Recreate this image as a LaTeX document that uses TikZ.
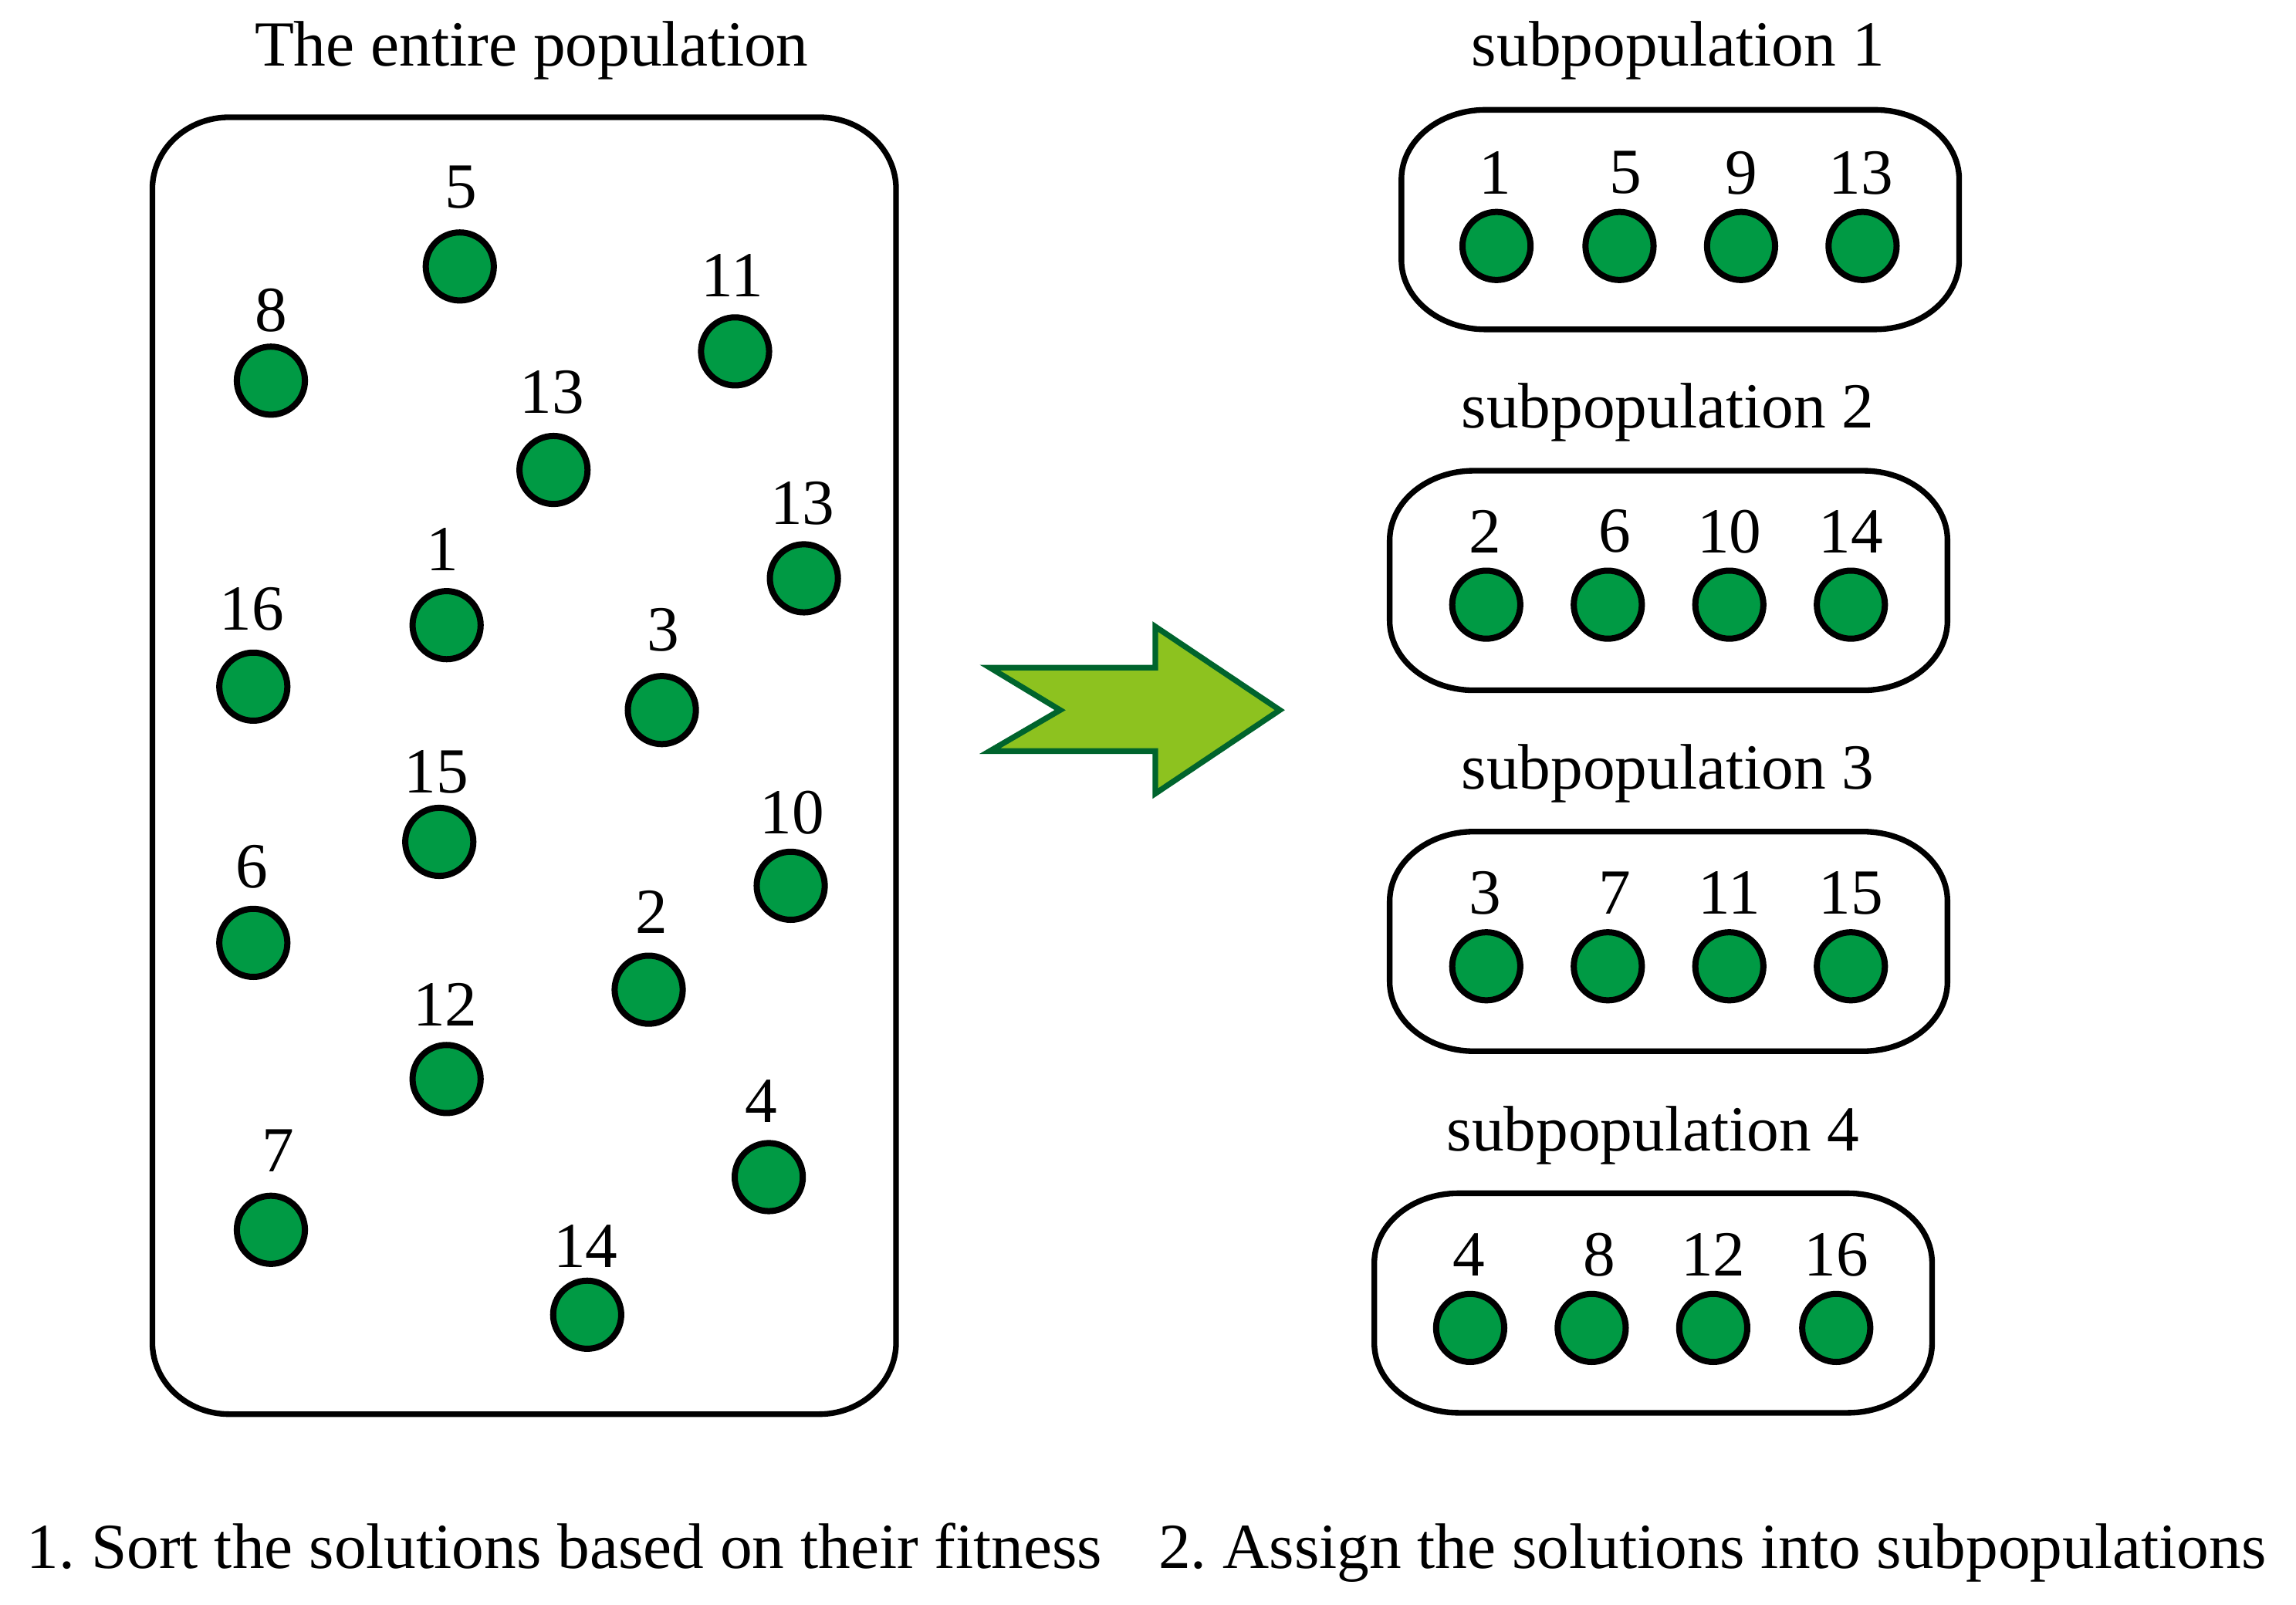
\documentclass[tikz,border=0pt]{standalone}
\usepackage{fontspec}
\setmainfont{Liberation Serif}
\frenchspacing
\definecolor{dotgreen}{RGB}{0,154,68}
\definecolor{arrowfill}{RGB}{141,194,31}
\definecolor{arrowline}{RGB}{0,100,45}
\newcommand\myoutline[3]{%
  \draw[boxline] ([xshift=#2]#1.north west) -- ([xshift=-#2]#1.north east)
    arc[start angle=90,end angle=0,x radius=#2,y radius=#3]
    -- ([yshift=#3]#1.south east)
    arc[start angle=0,end angle=-90,x radius=#2,y radius=#3]
    -- ([xshift=#2]#1.south west)
    arc[start angle=270,end angle=180,x radius=#2,y radius=#3]
    -- ([yshift=-#3]#1.north west)
    arc[start angle=180,end angle=90,x radius=#2,y radius=#3] -- cycle;}
\begin{document}
\begin{tikzpicture}[x=0.02cm,y=-0.02cm,
  every node/.style={font=\fontsize{25}{30}\selectfont},
  dot/.style={circle,draw=black,line width=2.4pt,fill=dotgreen,minimum size=0.93cm,inner sep=0pt},
  num/.style={inner sep=0pt},
  boxline/.style={draw=black,line width=2.2pt},
  bigbox/.style={minimum width=10.16cm,minimum height=17.72cm,inner sep=0pt,outer sep=0pt},
  subbox/.style={minimum width=7.62cm,minimum height=3cm,inner sep=0pt,outer sep=0pt},
  ttl/.style={anchor=base,inner sep=0pt}]
\useasboundingbox (0,0) rectangle (1568,1096);
% big population box
\node[bigbox] (pop) at (358,523) {};
\myoutline{pop}{1.05cm}{0.98cm}
\node[ttl] (popttl) at (363,45) {The entire population};
% dots in the big box
\foreach \n/\cx/\cy/\lx/\ly/\t in {
  a/314/182/315/128/5, b/185/260/185/212/8, c/502/240/500/188/11,
  d/378/321/377/268/13, e/549/395/548/344/13, f/305/427/302/375/1,
  g/173/469/172/416/16, h/452/485/453/430/3, i/300/575/298/527/15,
  j/540/605/541/555/10, k/173/644/172/592/6, l/443/676/445/623/2,
  m/305/737/304/686/12, n/525/804/520/752/4, o/185/840/190/786/7,
  p/401/898/400/851/14}{
  \node[dot] (c\n) at (\cx,\cy) {};
  \node[num] (l\n) at (\lx,\ly) {\t};
}
% arrow
\draw[line width=2.2pt,line join=miter,draw=arrowline,fill=arrowfill]
  (676,456) -- (789,456) -- (789,428) -- (874,485) -- (789,542) -- (789,513)
  -- (676,513) -- (724,485) -- cycle;
% subpopulation boxes
\node[subbox] (s1) at (1147.5,150) {};
\node[ttl] (t1) at (1146,45) {subpopulation 1};
\node[subbox] (s2) at (1139.5,396.5) {};
\node[ttl] (t2) at (1139,292) {subpopulation 2};
\node[subbox] (s3) at (1139.5,643) {};
\node[ttl] (t3) at (1139,539) {subpopulation 3};
\node[subbox] (s4) at (1129,890) {};
\node[ttl] (t4) at (1129,786) {subpopulation 4};
\foreach \b in {s1,s2,s3,s4}{\myoutline{\b}{1.15cm}{0.95cm}}
\foreach \n/\cx/\cy/\lx/\t in {
  a1/1022/168/1021/1, a2/1106/168/1110/5, a3/1189/168/1189/9, a4/1272/168/1271/13,
  b1/1015/413/1014/2, b2/1098/413/1103/6, b3/1181/413/1181/10, b4/1264/413/1264/14,
  c1/1015/660/1014/3, c2/1098/660/1103/7, c3/1181/660/1181/11, c4/1264/660/1264/15,
  d1/1004/907/1003/4, d2/1087/907/1092/8, d3/1170/907/1170/12, d4/1254/907/1254/16}{
  \node[dot] (s\n) at (\cx,\cy) {};
  \node[num] (sl\n) at (\lx,\cy-50) {\t};
}
% captions
\node[ttl,anchor=base west] (cap1) at (18,1071) {1. Sort the solutions based on their fitness};
\node[ttl,anchor=base east] (cap2) at (1548,1071) {2. Assign the solutions into subpopulations};
\end{tikzpicture}
\end{document}
